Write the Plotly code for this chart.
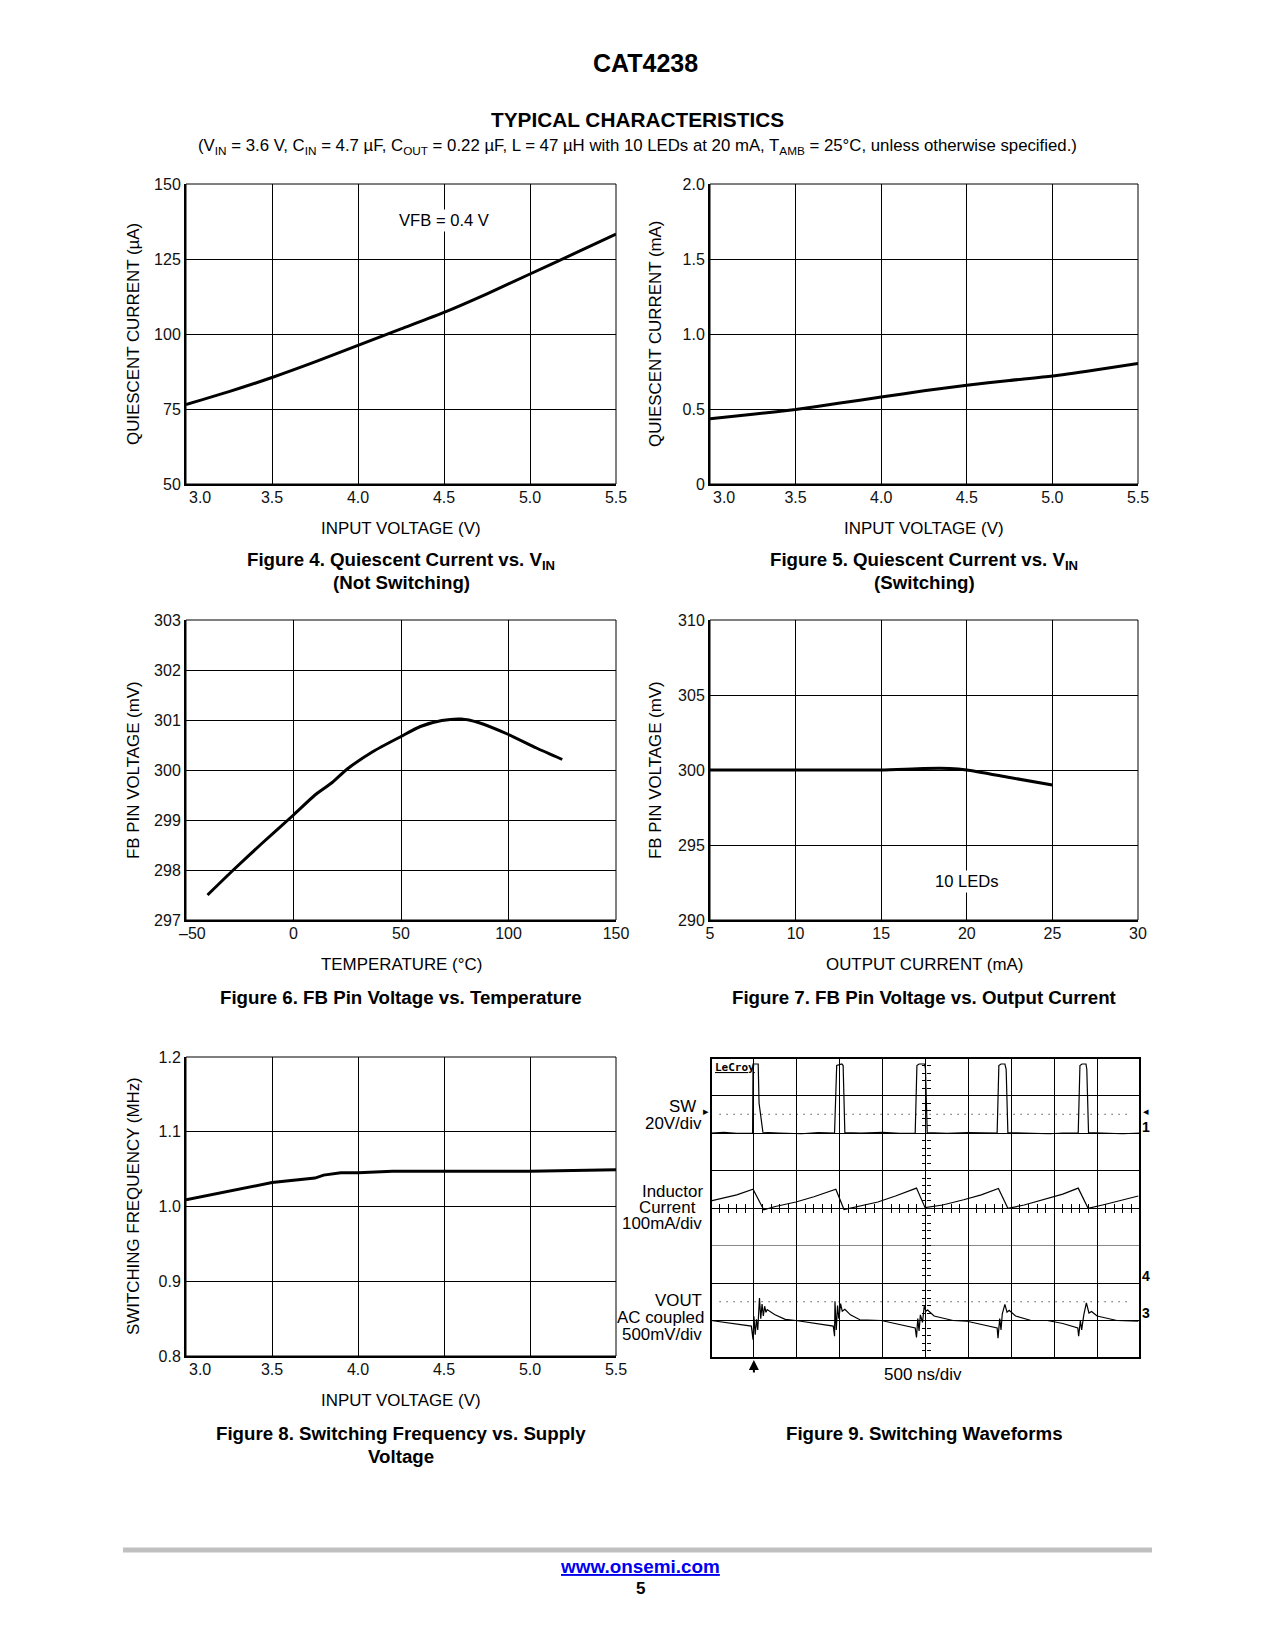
import plotly.graph_objects as go

W, H = 1275, 1650
FONT = "Liberation Sans, Arial, Helvetica, sans-serif"

# ---------------- data ----------------
# Figure 4: quiescent current (not switching)
fig4_vin = [3.0, 3.25, 3.5, 3.75, 4.0, 4.25, 4.5, 4.75, 5.0, 5.25, 5.5]
fig4_iq_ua = [76.5, 80.8, 85.5, 90.7, 96.2, 101.7, 107.2, 113.4, 120.0, 126.6, 133.3]

# Figure 5: quiescent current (switching)
fig5_vin = [3.0, 3.25, 3.5, 3.75, 4.0, 4.25, 4.5, 4.75, 5.0, 5.25, 5.5]
fig5_iq_ma = [0.435, 0.465, 0.497, 0.538, 0.58, 0.621, 0.658, 0.69, 0.72, 0.76, 0.803]

# Figure 6: FB pin voltage vs temperature
fig6_temp = [-40, -28, -15, 0, 10, 18, 25, 37, 50, 59, 69, 78, 86, 100, 113, 125]
fig6_vfb = [297.5, 298.0, 298.52, 299.1, 299.5, 299.75, 300.02, 300.37, 300.67,
            300.87, 300.99, 301.02, 300.95, 300.71, 300.44, 300.21]

# Figure 7: FB pin voltage vs output current
fig7_iout = [5, 10, 15, 17.5, 19, 20, 22.5, 25]
fig7_vfb = [300.0, 300.0, 300.0, 300.1, 300.1, 300.0, 299.5, 299.0]

# Figure 8: switching frequency vs supply voltage
fig8_vin = [3.0, 3.25, 3.5, 3.75, 3.8, 3.9, 4.0, 4.2, 4.5, 5.0, 5.5]
fig8_fsw = [1.009, 1.021, 1.032, 1.038, 1.042, 1.045, 1.045, 1.047, 1.047, 1.047, 1.049]

# Figure 9: scope traces (time in divisions, level in divisions)
sw_t = [0.0, 0.3, 0.6, 0.97, 0.98, 1.10, 1.12, 1.21, 1.6, 2.1, 2.5,
        2.88, 2.93, 3.05, 3.08, 3.12, 3.5, 4.0, 4.4,
        4.76, 4.80, 4.85, 4.98, 5.00, 5.04, 5.5, 6.0, 6.3,
        6.67, 6.71, 6.76, 6.85, 6.88, 6.92, 7.4, 7.9, 8.2,
        8.56, 8.60, 8.65, 8.74, 8.76, 8.80, 9.2, 9.6, 10.0]
sw_lvl = [6.0, 6.02, 5.99, 6.0, 7.84, 7.84, 6.8, 6.02, 6.0, 5.98, 6.01,
          6.0, 7.8, 7.84, 7.8, 6.01, 6.0, 6.02, 5.99,
          6.0, 7.8, 7.84, 7.84, 7.7, 6.01, 5.99, 6.01, 6.0,
          6.0, 7.8, 7.84, 7.84, 7.7, 6.01, 6.0, 5.98, 6.0,
          6.0, 7.8, 7.84, 7.84, 7.7, 6.01, 6.0, 5.98, 6.0]

ind_t = [0.0, 0.3, 0.6, 0.98, 1.23, 1.5, 1.98, 2.4, 2.91,
         3.10, 3.5, 3.89, 4.3, 4.79, 4.99, 5.4, 5.89, 6.3, 6.70,
         6.92, 7.3, 7.80, 8.2, 8.56, 8.79, 9.2, 9.6, 9.96]
ind_lvl = [4.19, 4.27, 4.35, 4.50, 3.95, 4.04, 4.16, 4.30, 4.50,
           3.96, 4.06, 4.16, 4.32, 4.53, 4.01, 4.08, 4.22, 4.35, 4.52,
           3.99, 4.08, 4.24, 4.37, 4.53, 3.99, 4.10, 4.21, 4.32]

vout_t = [0.0, 0.5, 0.94, 0.98, 1.00, 1.03, 1.06, 1.09, 1.13, 1.16, 1.19, 1.22, 1.25, 1.28, 1.31, 1.48, 1.73, 1.98, 2.4, 2.85,
          2.88, 2.89, 2.92, 2.95, 2.98, 3.02, 3.06, 3.12, 3.25, 3.47, 3.97, 4.4, 4.76,
          4.79, 4.82, 4.85, 4.88, 4.93, 4.97, 5.01, 5.05, 5.2, 5.64, 5.97, 6.3, 6.67,
          6.69, 6.73, 6.76, 6.79, 6.85, 6.90, 6.95, 7.1, 7.46, 7.84, 8.2, 8.55,
          8.57, 8.61, 8.64, 8.69, 8.75, 8.81, 8.87, 9.0, 9.46, 9.96]
vout_lvl = [1.00, 0.93, 0.85, 0.49, 1.11, 0.62, 1.03, 0.75, 1.60, 1.05, 1.44, 1.12, 1.38, 1.22, 1.29, 1.16, 1.03, 1.00, 0.93, 0.85,
            0.58, 1.51, 0.75, 1.40, 1.05, 1.45, 1.25, 1.30, 1.15, 1.02, 1.00, 0.90, 0.80,
            0.55, 1.05, 0.72, 1.15, 0.95, 1.38, 1.25, 1.28, 1.12, 1.00, 0.98, 0.90, 0.80,
            0.53, 1.05, 0.75, 1.18, 1.43, 1.22, 1.27, 1.12, 1.00, 1.00, 0.92, 0.80,
            0.58, 1.00, 0.75, 1.15, 1.47, 1.20, 1.24, 1.12, 1.00, 0.98]

# tick values / labels (first x label of some charts is set beside the axis start)
vin_first, vin_first_label = 3.0, "3.0"
vin_ticks = [3.5, 4.0, 4.5, 5.0, 5.5]
vin_labels = ["3.5", "4.0", "4.5", "5.0", "5.5"]
vin_grid = [3.0, 3.5, 4.0, 4.5, 5.0, 5.5]
fig4_yticks = [50, 75, 100, 125, 150]
fig5_yticks = [0, 0.5, 1.0, 1.5, 2.0]
fig5_ylabels = ["0", "0.5", "1.0", "1.5", "2.0"]
fig6_first, fig6_first_label = -50, "\u201350"
fig6_xticks = [0, 50, 100, 150]
fig6_xlabels = ["0", "50", "100", "150"]
fig6_yticks = [297, 298, 299, 300, 301, 302, 303]
fig7_xticks = [5, 10, 15, 20, 25, 30]
fig7_yticks = [290, 295, 300, 305, 310]
fig8_yticks = [0.8, 0.9, 1.0, 1.1, 1.2]
fig8_ylabels = ["0.8", "0.9", "1.0", "1.1", "1.2"]
scope_vgrid = [1, 2, 3, 4, 5, 6, 7, 8, 9]
scope_hgrid = [1, 2, 4, 5, 6, 7]

# ---------------- helpers ----------------
def dx(a, b):
    return [a / W, b / W]


def dy(top, bottom):
    return [1 - bottom / H, 1 - top / H]


TICKFONT = dict(family=FONT, size=16, color="#111111")


def axis(domain, rng, tickvals, ticktext, anchor, is_x):
    return dict(domain=domain, range=rng, tickmode="array", tickvals=tickvals,
                ticktext=ticktext, showgrid=True, gridcolor="black", gridwidth=1,
                showline=True, linecolor="black", linewidth=2, zeroline=False,
                ticks="", ticklabelstandoff=(-2 if is_x else 0), tickfont=TICKFONT,
                anchor=anchor, fixedrange=True, automargin=False)


fig = go.Figure()
curve = dict(color="black", width=3, shape="spline", smoothing=0.6)

fig.add_trace(go.Scatter(x=fig4_vin, y=fig4_iq_ua, xaxis="x", yaxis="y", mode="lines", line=curve))
fig.add_trace(go.Scatter(x=fig5_vin, y=fig5_iq_ma, xaxis="x2", yaxis="y2", mode="lines", line=curve))
fig.add_trace(go.Scatter(x=fig6_temp, y=fig6_vfb, xaxis="x3", yaxis="y3", mode="lines", line=curve))
fig.add_trace(go.Scatter(x=fig7_iout, y=fig7_vfb, xaxis="x4", yaxis="y4", mode="lines", line=curve))
fig.add_trace(go.Scatter(x=fig8_vin, y=fig8_fsw, xaxis="x5", yaxis="y5", mode="lines",
                         line=dict(color="black", width=3)))

scope_line = dict(color="black", width=1.2)
fig.add_trace(go.Scatter(x=sw_t, y=sw_lvl, xaxis="x6", yaxis="y6", mode="lines", line=scope_line))
fig.add_trace(go.Scatter(x=ind_t, y=ind_lvl, xaxis="x6", yaxis="y6", mode="lines", line=scope_line))
fig.add_trace(go.Scatter(x=vout_t, y=vout_lvl, xaxis="x6", yaxis="y6", mode="lines", line=scope_line))
# empty traces to realise the centre-graticule tick axes
for xa, ya in [("x7", "y6"), ("x8", "y6"), ("x6", "y7"), ("x6", "y8")]:
    fig.add_trace(go.Scatter(x=[None], y=[None], xaxis=xa, yaxis=ya, mode="lines",
                             showlegend=False, hoverinfo="skip"))

# domains
A = (dx(186, 616), dy(184, 484))
B = (dx(710, 1138), dy(184, 484))
C = (dx(186, 616), dy(620, 920))
D = (dx(710, 1138), dy(620, 920))
E = (dx(186, 616), dy(1057, 1356))
F = (dx(711, 1140), dy(1058, 1358))

lay = dict(width=W, height=H, margin=dict(l=0, r=0, t=0, b=0), showlegend=False,
           paper_bgcolor="white", plot_bgcolor="white", font=dict(family=FONT, color="black"))

lay["xaxis"] = axis(A[0], [3.0, 5.5], vin_ticks, vin_labels, "y", True)
lay["yaxis"] = axis(A[1], [50, 150], fig4_yticks, [str(v) for v in fig4_yticks], "x", False)
lay["xaxis2"] = axis(B[0], [3.0, 5.5], vin_ticks, vin_labels, "y2", True)
lay["yaxis2"] = axis(B[1], [0, 2.0], fig5_yticks, fig5_ylabels, "x2", False)
lay["xaxis3"] = axis(C[0], [-50, 150], fig6_xticks, fig6_xlabels, "y3", True)
lay["yaxis3"] = axis(C[1], [297, 303], fig6_yticks, [str(v) for v in fig6_yticks], "x3", False)
lay["xaxis4"] = axis(D[0], [5, 30], fig7_xticks, [str(v) for v in fig7_xticks], "y4", True)
lay["yaxis4"] = axis(D[1], [290, 310], fig7_yticks, [str(v) for v in fig7_yticks], "x4", False)
lay["xaxis5"] = axis(E[0], [3.0, 5.5], vin_ticks, vin_labels, "y5", True)
lay["yaxis5"] = axis(E[1], [0.8, 1.2], fig8_yticks, fig8_ylabels, "x5", False)

scope_ax = dict(showticklabels=False, showgrid=True, gridcolor="black", gridwidth=1,
                showline=False, zeroline=False, ticks="", fixedrange=True, automargin=False,
                tickmode="array")
lay["xaxis6"] = dict(domain=F[0], range=[0, 10], tickvals=scope_vgrid, anchor="y6", **scope_ax)
lay["yaxis6"] = dict(domain=F[1], range=[0, 8], tickvals=scope_hgrid, anchor="x6", **scope_ax)

ycen = (F[1][0] + F[1][1]) / 2
xcen = (F[0][0] + F[0][1]) / 2
minor = dict(showticklabels=False, showgrid=False, showline=False, zeroline=False,
             tickmode="linear", tick0=0, ticklen=4, tickwidth=1, tickcolor="black",
             fixedrange=True, automargin=False)
lay["xaxis7"] = dict(overlaying="x6", anchor="free", position=ycen, range=[0, 10], dtick=0.2,
                     ticks="inside", **minor)
lay["xaxis8"] = dict(overlaying="x6", anchor="free", position=ycen, range=[0, 10], dtick=0.2,
                     ticks="outside", **minor)
lay["yaxis7"] = dict(overlaying="y6", anchor="free", position=xcen, range=[0, 8], dtick=0.2,
                     ticks="inside", **minor)
lay["yaxis8"] = dict(overlaying="y6", anchor="free", position=xcen, range=[0, 8], dtick=0.2,
                     ticks="outside", **minor)

# ---------------- shapes ----------------
shapes = []
for xa, ya in [("x", "y"), ("x2", "y2"), ("x3", "y3"), ("x4", "y4"), ("x5", "y5")]:
    shapes.append(dict(type="rect", xref=f"{xa} domain", yref=f"{ya} domain", x0=0, x1=1, y0=0, y1=1,
                       line=dict(color="black", width=1), layer="above"))
# first gridline of the charts whose first label is placed separately (kept on the axis scale)
shapes.append(dict(type="rect", xref="x6 domain", yref="y6 domain", x0=0, x1=1, y0=0, y1=1,
                   line=dict(color="black", width=2), layer="above"))
shapes.append(dict(type="line", xref="x6 domain", yref="y6", x0=0, x1=1, y0=3, y1=3,
                   line=dict(color="#8a8a8a", width=1), layer="below"))
for lvl in (6.5, 1.5):
    shapes.append(dict(type="line", xref="x6 domain", yref="y6", x0=0.02, x1=0.98, y0=lvl, y1=lvl,
                       line=dict(color="black", width=1, dash="1px,6px"), layer="below"))
shapes.append(dict(type="line", xref="paper", yref="paper", x0=123 / W, x1=1152 / W,
                   y0=1 - 1550 / H, y1=1 - 1550 / H, line=dict(color="#c0c0c0", width=5)))

# ---------------- annotations ----------------
anns = []
TS = 16.9  # body text size


def text(x, y, s, size=TS, xanchor="center", angle=0, color="black", family=FONT):
    anns.append(dict(xref="paper", yref="paper", x=x / W, y=1 - y / H, text=s, showarrow=False,
                     xanchor=xanchor, yanchor="middle", textangle=angle,
                     font=dict(size=size, family=family, color=color)))


def first_xlabel(xref, yref, xval, label, xanchor, xshift):
    anns.append(dict(xref=xref, yref=f"{yref} domain", x=xval, y=0, text=label, showarrow=False,
                     xanchor=xanchor, yanchor="middle", xshift=xshift, yshift=-13,
                     font=TICKFONT))


first_xlabel("x", "y", vin_first, vin_first_label, "left", 1)
first_xlabel("x2", "y2", vin_first, vin_first_label, "left", 1)
first_xlabel("x5", "y5", vin_first, vin_first_label, "left", 1)
first_xlabel("x3", "y3", fig6_first, fig6_first_label, "center", 6)

text(645, 63, "<b>CAT4238</b>", size=25)
text(637, 119, "<b>TYPICAL CHARACTERISTICS</b>", size=20.8)
text(637, 146, "(V<sub>IN</sub> = 3.6 V, C<sub>IN</sub> = 4.7 \u00b5F, C<sub>OUT</sub> = 0.22 \u00b5F, "
               "L = 47 \u00b5H with 10 LEDs at 20 mA, T<sub>AMB</sub> = 25\u00b0C, unless otherwise specified.)",
     size=16.8)

# axis titles
text(134, 334, "QUIESCENT CURRENT (\u00b5A)", angle=-90)
text(656, 334, "QUIESCENT CURRENT (mA)", angle=-90)
text(133, 770, "FB PIN VOLTAGE (mV)", angle=-90)
text(655, 770, "FB PIN VOLTAGE (mV)", angle=-90)
text(133, 1206, "SWITCHING FREQUENCY (MHz)", angle=-90)
text(401, 528, "INPUT VOLTAGE (V)")
text(924, 528, "INPUT VOLTAGE (V)")
text(401, 964, "TEMPERATURE (\u00b0C)")
text(924, 964, "OUTPUT CURRENT (mA)")
text(401, 1400, "INPUT VOLTAGE (V)")

# captions
CS = 18.7
text(401, 561, "<b>Figure 4. Quiescent Current vs. V<sub>IN</sub></b>", size=CS)
text(401, 583, "<b>(Not Switching)</b>", size=CS)
text(924, 561, "<b>Figure 5. Quiescent Current vs. V<sub>IN</sub></b>", size=CS)
text(924, 583, "<b>(Switching)</b>", size=CS)
text(401, 997, "<b>Figure 6. FB Pin Voltage vs. Temperature</b>", size=CS)
text(924, 997, "<b>Figure 7. FB Pin Voltage vs. Output Current</b>", size=CS)
text(401, 1433, "<b>Figure 8. Switching Frequency vs. Supply</b>", size=CS)
text(401, 1456, "<b>Voltage</b>", size=CS)
text(924, 1433, "<b>Figure 9. Switching Waveforms</b>", size=CS)

# in-plot notes
anns.append(dict(xref="x", yref="y", x=4.5, y=138, text="VFB = 0.4 V", showarrow=False,
                 bgcolor="white", font=dict(size=16.6, family=FONT, color="black")))
anns.append(dict(xref="x4", yref="y4", x=20, y=292.6, text="10 LEDs", showarrow=False,
                 bgcolor="white", font=dict(size=16.6, family=FONT, color="black")))

# scope labels
text(698, 1106, "SW", xanchor="right")
text(704, 1123, "20V/div", xanchor="right")
text(705, 1191, "Inductor", xanchor="right")
text(698, 1207, "Current", xanchor="right")
text(704, 1223, "100mA/div", xanchor="right")
text(704, 1300, "VOUT", xanchor="right")
text(706, 1317, "AC coupled", xanchor="right")
text(704, 1334, "500mV/div", xanchor="right")
text(923, 1374, "500 ns/div", size=17)
text(713, 1067, "<b><u>LeCroy</u></b>", size=11, xanchor="left", family="DejaVu Sans Mono, monospace")
text(706, 1111, "\u25b8", size=11)
text(1146, 1111, "\u25c2", size=11)
text(1146, 1127, "<b>1</b>", size=14)
text(1146, 1276, "<b>4</b>", size=14)
text(1146, 1313, "<b>3</b>", size=14)
anns.append(dict(xref="x6", yref="y6", x=1, y=0, ax=0, ay=16, text="", showarrow=True,
                 arrowhead=2, arrowsize=1, arrowwidth=2, arrowcolor="black", standoff=2))

# footer
text(640, 1566, "<b><u>www.onsemi.com</u></b>", size=18.9, color="#0000ee")
text(640, 1588, "<b>5</b>", size=17)

lay["shapes"] = shapes
lay["annotations"] = anns
fig.update_layout(**lay)

fig.write_html("out.html", config={"displayModeBar": False, "staticPlot": True},
               post_script="document.body.style.margin='0px';")
